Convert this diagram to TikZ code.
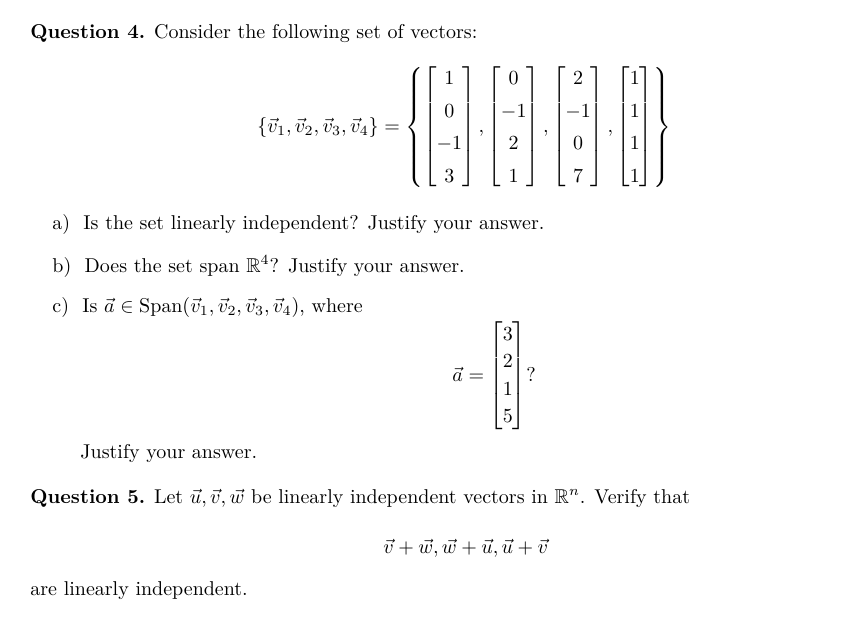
\documentclass[tikz,border=0pt]{standalone}
\usepackage{amsmath,amssymb}
\begin{document}
\begin{tikzpicture}[x=0.5pt,y=-0.5pt,txt/.style={anchor=base west,inner sep=0pt}]
\useasboundingbox[fill=white] (0,0) rectangle (856,616);
\node[txt] (q4) at (30,38) {\textbf{Question 4.} Consider the following set of vectors:};
\node[anchor=west,inner sep=0pt] (set) at (257,127) {$\displaystyle \{\vec v_1,\vec v_2,\vec v_3,\vec v_4\}=\left\{\renewcommand{\arraystretch}{1.35}\begin{bmatrix}1\\0\\-1\\3\end{bmatrix},\begin{bmatrix}0\\-1\\2\\1\end{bmatrix},\begin{bmatrix}2\\-1\\0\\7\end{bmatrix},\begin{bmatrix}1\\1\\1\\1\end{bmatrix}\right\}$};
\node[txt] (a) at (52,229) {a)\ \ Is the set linearly independent? Justify your answer.};
\node[txt] (b) at (52,272) {b)\ \ Does the set span $\mathbb{R}^4$? Justify your answer.};
\node[txt] (c) at (52,312) {c)\ \ Is $\vec a\in\operatorname{Span}(\vec v_1,\vec v_2,\vec v_3,\vec v_4)$, where};
\node[anchor=west,inner sep=0pt] (av) at (452,376) {$\displaystyle \vec a=\renewcommand{\arraystretch}{1.15}\begin{bmatrix}3\\2\\1\\5\end{bmatrix}?$};
\node[txt] (j) at (80,458) {Justify your answer.};
\node[txt] (q5) at (30,503) {\textbf{Question 5.} Let $\vec u,\vec v,\vec w$ be linearly independent vectors in $\mathbb{R}^n$. Verify that};
\node[txt] (e) at (383,553) {$\vec v+\vec w,\vec w+\vec u,\vec u+\vec v$};
\node[txt] (l) at (30,595) {are linearly independent.};
\end{tikzpicture}
\end{document}
